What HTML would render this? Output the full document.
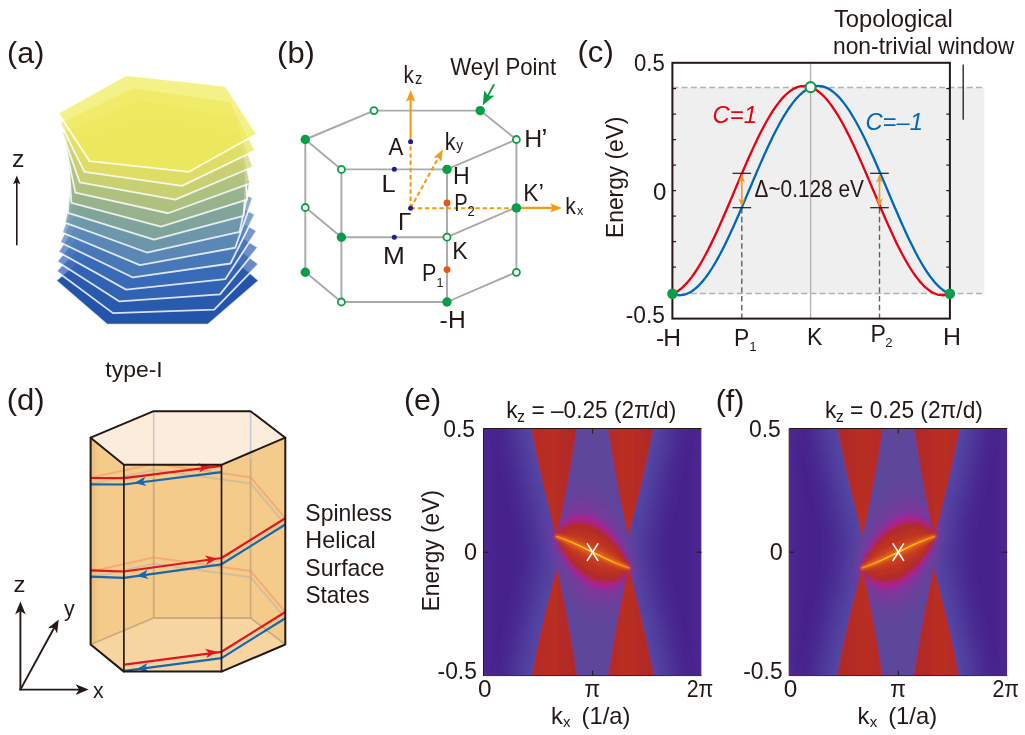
<!DOCTYPE html>
<html lang="en"><head><meta charset="utf-8"><title>Figure</title>
<style>
html,body{margin:0;padding:0;background:#fff;}
svg{display:block;font-family:"Liberation Sans", sans-serif;}
</style></head><body>
<svg width="1025" height="735" viewBox="0 0 1025 735">
<rect x="0" y="0" width="1025" height="735" fill="#ffffff"/>
<!-- panel pa -->
<text transform="translate(7.1 62.6) scale(1.0254 1)" font-size="29.7" text-anchor="start" fill="#231815" >(a)</text>
<text transform="translate(12 166.8) scale(1.0817 1)" font-size="23" text-anchor="start" fill="#231815" >z</text>
<line x1="16.8" y1="245.3" x2="16.8" y2="180" stroke="#231815" stroke-width="1.6"/>
<path d="M16.8 175.4 L20.4 184.2 L16.8 182.4 L13.2 184.2 Z" fill="#231815"/>
<g stroke="#ffffff" stroke-width="1.8" stroke-opacity="0.82" stroke-linejoin="round">
<polygon points="208.25,324.55 106.75,324.55 56,280.6 106.75,236.65 208.25,236.65 259,280.6" fill="#2454aa" fill-opacity="1"/>
<polygon points="214.26,309.58 113.01,313.12 56.25,271.05 100.74,225.43 201.99,221.89 258.75,263.97" fill="#2c5daf" fill-opacity="0.72"/>
<polygon points="219.99,294.41 119.48,301.47 56.99,261.48 95.01,214.43 195.52,207.36 258.01,247.35" fill="#3465b5" fill-opacity="0.72"/>
<polygon points="225.42,279.04 126.13,289.59 58.22,251.88 89.58,203.61 188.87,193.06 256.78,230.77" fill="#3c6eba" fill-opacity="0.72"/>
<polygon points="230.51,263.49 132.94,277.48 59.93,242.22 84.49,192.98 182.06,178.99 255.07,214.24" fill="#4f7eb8" fill-opacity="0.72"/>
<polygon points="235.25,247.76 139.87,265.12 62.12,232.5 79.75,182.52 175.13,165.16 252.88,197.78" fill="#618eb6" fill-opacity="0.72"/>
<polygon points="239.62,231.88 146.89,252.52 64.78,222.69 75.38,172.22 168.11,151.58 250.22,181.41" fill="#749ca6" fill-opacity="0.72"/>
<polygon points="243.58,215.85 153.96,239.68 67.88,212.78 71.42,162.06 161.04,138.24 247.12,165.13" fill="#88a995" fill-opacity="0.72"/>
<polygon points="247.12,199.69 161.04,226.59 71.42,202.76 67.88,152.04 153.96,125.15 243.58,148.97" fill="#a0b788" fill-opacity="0.72"/>
<polygon points="250.22,183.42 168.11,213.25 75.38,192.61 64.78,142.13 146.89,112.3 239.62,132.94" fill="#b9c67a" fill-opacity="0.72"/>
<polygon points="252.88,167.04 175.13,199.66 79.75,182.3 62.12,132.33 139.87,99.7 235.25,117.06" fill="#d1d56e" fill-opacity="0.72"/>
<polygon points="255.07,150.58 182.06,185.83 84.49,171.85 59.93,122.6 132.94,87.35 230.51,101.34" fill="#e6e363" fill-opacity="0.72"/>
<polygon points="256.78,134.05 188.87,171.77 89.58,161.21 58.22,112.95 126.13,75.23 225.42,85.79" fill="#f1eb5c" fill-opacity="0.72"/>
</g>
<text transform="translate(105.26 376.5) scale(1.0217 1)" font-size="22.5" text-anchor="start" fill="#231815" >type-I</text>
<!-- panel pb -->
<text transform="translate(277.06 62.6) scale(1.0438 1)" font-size="29.7" text-anchor="start" fill="#231815" >(b)</text>
<g fill="none" stroke="#a9a9aa" stroke-width="1.9" stroke-linejoin="round" stroke-linecap="round">
<polygon points="374,110.6 480.2,110.6 516.4,139.5 447,169.4 341.4,169.4 305.3,139.5"/>
<polyline points="305.3,207.3 341.4,237.2 447,237.2 516.4,207.3"/>
<polyline points="305.3,272.1 341.4,302 447,302 516.4,272.1"/>
<line x1="305.3" y1="139.5" x2="305.3" y2="272.1"/>
<line x1="341.4" y1="169.4" x2="341.4" y2="302"/>
<line x1="447.0" y1="169.4" x2="447.0" y2="302"/>
<line x1="516.4" y1="139.5" x2="516.4" y2="272.1"/>
</g>
<g stroke="#f39b12" stroke-width="2.1" fill="none">
<line x1="410.6" y1="208.2" x2="410.6" y2="142" stroke-dasharray="4.4 2.8"/>
<line x1="410.6" y1="142" x2="410.6" y2="99"/>
<line x1="410.6" y1="208.2" x2="516" y2="208.2" stroke-dasharray="4.4 2.8"/>
<line x1="516" y1="207.9" x2="553" y2="207.9"/>
<line x1="410.6" y1="208.2" x2="438.0" y2="158.5" stroke-dasharray="4.4 2.8"/>
</g>
<path d="M410.6 90.1 L415.2 101.8 L410.6 99.4 L406 101.8 Z" fill="#f39b12"/>
<path d="M561.9 207.9 L550.2 212.5 L552.7 207.9 L550.2 203.3 Z" fill="#f39b12"/>
<path d="M442.9 149.6 L441.2 161.8 L438.41 157.74 L433.5 157.55 Z" fill="#f39b12"/>
<circle cx="480.2" cy="110.6" r="4.7" fill="#0a9d49"/>
<circle cx="447.0" cy="169.4" r="4.7" fill="#0a9d49"/>
<circle cx="305.3" cy="139.5" r="4.7" fill="#0a9d49"/>
<circle cx="341.4" cy="237.2" r="4.7" fill="#0a9d49"/>
<circle cx="516.4" cy="207.9" r="4.7" fill="#0a9d49"/>
<circle cx="305.3" cy="272.3" r="4.7" fill="#0a9d49"/>
<circle cx="447.0" cy="302.0" r="4.7" fill="#0a9d49"/>
<circle cx="374.0" cy="110.6" r="3.5" fill="#ffffff" stroke="#0a9d49" stroke-width="1.8"/>
<circle cx="516.4" cy="139.5" r="3.5" fill="#ffffff" stroke="#0a9d49" stroke-width="1.8"/>
<circle cx="341.4" cy="169.4" r="3.5" fill="#ffffff" stroke="#0a9d49" stroke-width="1.8"/>
<circle cx="305.3" cy="207.5" r="3.5" fill="#ffffff" stroke="#0a9d49" stroke-width="1.8"/>
<circle cx="447.0" cy="237.2" r="3.5" fill="#ffffff" stroke="#0a9d49" stroke-width="1.8"/>
<circle cx="341.4" cy="302.0" r="3.5" fill="#ffffff" stroke="#0a9d49" stroke-width="1.8"/>
<circle cx="516.4" cy="272.3" r="3.5" fill="#ffffff" stroke="#0a9d49" stroke-width="1.8"/>
<circle cx="410.6" cy="141.7" r="2.5" fill="#1d2087"/>
<circle cx="394.3" cy="169.3" r="2.5" fill="#1d2087"/>
<circle cx="410.6" cy="208.2" r="2.5" fill="#1d2087"/>
<circle cx="394.3" cy="237.2" r="2.5" fill="#1d2087"/>
<circle cx="447.0" cy="203.0" r="3.4" fill="#e95513"/>
<circle cx="447.0" cy="269.6" r="3.4" fill="#e95513"/>
<line x1="494.1" y1="84.2" x2="487.4" y2="96.6" stroke="#0a9d49" stroke-width="1.9"/>
<path d="M482.7 105.3 L484.25 90.23 L487.93 95.62 L494.46 95.74 Z" fill="#0a9d49"/>
<text transform="translate(450.29 75.4) scale(0.9662 1)" font-size="23" text-anchor="start" fill="#231815" >Weyl Point</text>
<text transform="translate(403.6 82.6) scale(0.9047 1)" font-size="23" fill="#231815">k<tspan x="12.62" y="1.1" font-size="16.13">z</tspan></text>
<text transform="translate(444.73 149.5) scale(0.945 1)" font-size="23" fill="#231815">k<tspan x="12.2" y="0.9" font-size="14.54">y</tspan></text>
<text transform="translate(565.36 214) scale(0.9249 1)" font-size="23" fill="#231815">k<tspan x="12.52" y="1.1" font-size="13.66">x</tspan></text>
<text transform="translate(388.44 155.4) scale(0.9647 1)" font-size="23" text-anchor="start" fill="#231815" >A</text>
<text transform="translate(381.6 192.1) scale(1.1067 1)" font-size="23" text-anchor="start" fill="#231815" >L</text>
<text transform="translate(398.11 230.3) scale(1.0474 1)" font-size="23" text-anchor="start" fill="#231815" >Γ</text>
<text transform="translate(382.94 263.5) scale(1.1399 1)" font-size="23" text-anchor="start" fill="#231815" >M</text>
<text transform="translate(453.09 183.7) scale(1.006 1)" font-size="23" text-anchor="start" fill="#231815" >H</text>
<text transform="translate(524.14 147.1) scale(1.084 1)" font-size="23" fill="#231815">H<tspan x="15.69" y="0" font-size="25.76">’</tspan></text>
<text transform="translate(523.21 200.5) scale(0.9949 1)" font-size="23" fill="#231815">K<tspan x="15.43" y="0" font-size="24.74">’</tspan></text>
<text transform="translate(452.18 258.6) scale(1.0101 1)" font-size="23" text-anchor="start" fill="#231815" >K</text>
<text transform="translate(454.14 210.9) scale(0.8736 1)" font-size="23" fill="#231815">P<tspan x="15.34" y="4.8" font-size="15.01">2</tspan></text>
<text transform="translate(421.92 281.1) scale(0.939 1)" font-size="23" fill="#231815">P<tspan x="15.59" y="5.4" font-size="13.4">1</tspan></text>
<text transform="translate(439.39 328.4) scale(1.0684 1)" font-size="23" fill="#231815">-<tspan x="8.12" y="0" font-size="23">H</tspan></text>
<!-- panel pc -->
<text transform="translate(577.45 62.4) scale(1.0497 1)" font-size="29.7" text-anchor="start" fill="#231815" >(c)</text>
<rect x="672.4" y="87.6" width="311.9" height="206" fill="#efefef"/>
<g stroke="#b2b2b3" stroke-width="1.5" stroke-dasharray="6 3.2">
<line x1="672.4" y1="87.6" x2="984.3" y2="87.6"/>
<line x1="672.4" y1="293.6" x2="984.3" y2="293.6"/>
</g>
<line x1="810.6" y1="62.8" x2="810.6" y2="318.6" stroke="#b0b0b1" stroke-width="1.3"/>
<line x1="741.8" y1="208" x2="741.8" y2="318.6" stroke="#626161" stroke-width="1.4" stroke-dasharray="5.6 3.2"/>
<line x1="879.5" y1="208" x2="879.5" y2="318.6" stroke="#626161" stroke-width="1.4" stroke-dasharray="5.6 3.2"/>
<polyline points="672.4,293.88 674.13,294.46 675.87,294.88 677.6,295.14 679.34,295.24 681.07,295.17 682.81,294.95 684.54,294.57 686.27,294.02 688.01,293.32 689.74,292.45 691.48,291.43 693.21,290.26 694.95,288.93 696.68,287.45 698.42,285.82 700.15,284.04 701.88,282.12 703.62,280.06 705.35,277.86 707.09,275.53 708.82,273.06 710.56,270.47 712.29,267.75 714.02,264.92 715.76,261.97 717.49,258.91 719.23,255.75 720.96,252.48 722.7,249.12 724.43,245.67 726.17,242.13 727.9,238.52 729.63,234.83 731.37,231.07 733.1,227.25 734.84,223.38 736.57,219.45 738.31,215.48 740.04,211.47 741.77,207.43 743.51,203.36 745.24,199.28 746.98,195.17 748.71,191.07 750.45,186.96 752.18,182.86 753.92,178.77 755.65,174.69 757.38,170.64 759.12,166.63 760.85,162.65 762.59,158.71 764.32,154.82 766.06,150.99 767.79,147.22 769.52,143.51 771.26,139.88 772.99,136.33 774.73,132.86 776.46,129.47 778.2,126.19 779.93,123 781.67,119.92 783.4,116.94 785.13,114.08 786.87,111.34 788.6,108.72 790.34,106.22 792.07,103.86 793.81,101.63 795.54,99.53 797.27,97.58 799.01,95.77 800.74,94.11 802.48,92.59 804.21,91.23 805.95,90.02 807.68,88.96 809.42,88.07 811.15,87.32 812.88,86.74 814.62,86.32 816.35,86.06 818.09,85.96 819.82,86.03 821.56,86.25 823.29,86.63 825.02,87.18 826.76,87.88 828.49,88.75 830.23,89.77 831.96,90.94 833.7,92.27 835.43,93.75 837.17,95.38 838.9,97.16 840.63,99.08 842.37,101.14 844.1,103.34 845.84,105.67 847.57,108.14 849.31,110.73 851.04,113.45 852.77,116.28 854.51,119.23 856.24,122.29 857.98,125.45 859.71,128.72 861.45,132.08 863.18,135.53 864.92,139.07 866.65,142.68 868.38,146.37 870.12,150.13 871.85,153.95 873.59,157.82 875.32,161.75 877.06,165.72 878.79,169.73 880.52,173.77 882.26,177.84 883.99,181.92 885.73,186.03 887.46,190.13 889.2,194.24 890.93,198.34 892.67,202.43 894.4,206.51 896.13,210.56 897.87,214.57 899.6,218.55 901.34,222.49 903.07,226.38 904.81,230.21 906.54,233.98 908.27,237.69 910.01,241.32 911.74,244.87 913.48,248.34 915.21,251.73 916.95,255.01 918.68,258.2 920.42,261.28 922.15,264.26 923.88,267.12 925.62,269.86 927.35,272.48 929.09,274.98 930.82,277.34 932.56,279.57 934.29,281.67 936.02,283.62 937.76,285.43 939.49,287.09 941.23,288.61 942.96,289.97 944.7,291.18 946.43,292.24 948.17,293.13 949.9,293.88" fill="none" stroke="#0068b7" stroke-width="2.3"/>
<polyline points="672.4,293.88 674.13,293.13 675.87,292.24 677.6,291.18 679.34,289.97 681.07,288.61 682.81,287.09 684.54,285.43 686.27,283.62 688.01,281.67 689.74,279.57 691.48,277.34 693.21,274.98 694.95,272.48 696.68,269.86 698.42,267.12 700.15,264.26 701.88,261.28 703.62,258.2 705.35,255.01 707.09,251.73 708.82,248.34 710.56,244.87 712.29,241.32 714.02,237.69 715.76,233.98 717.49,230.21 719.23,226.38 720.96,222.49 722.7,218.55 724.43,214.57 726.17,210.56 727.9,206.51 729.63,202.43 731.37,198.34 733.1,194.24 734.84,190.13 736.57,186.03 738.31,181.92 740.04,177.84 741.77,173.77 743.51,169.73 745.24,165.72 746.98,161.75 748.71,157.82 750.45,153.95 752.18,150.13 753.92,146.37 755.65,142.68 757.38,139.07 759.12,135.53 760.85,132.08 762.59,128.72 764.32,125.45 766.06,122.29 767.79,119.23 769.52,116.28 771.26,113.45 772.99,110.73 774.73,108.14 776.46,105.67 778.2,103.34 779.93,101.14 781.67,99.08 783.4,97.16 785.13,95.38 786.87,93.75 788.6,92.27 790.34,90.94 792.07,89.77 793.81,88.75 795.54,87.88 797.27,87.18 799.01,86.63 800.74,86.25 802.48,86.03 804.21,85.96 805.95,86.06 807.68,86.32 809.42,86.74 811.15,87.32 812.88,88.07 814.62,88.96 816.35,90.02 818.09,91.23 819.82,92.59 821.56,94.11 823.29,95.77 825.02,97.58 826.76,99.53 828.49,101.63 830.23,103.86 831.96,106.22 833.7,108.72 835.43,111.34 837.17,114.08 838.9,116.94 840.63,119.92 842.37,123 844.1,126.19 845.84,129.47 847.57,132.86 849.31,136.33 851.04,139.88 852.77,143.51 854.51,147.22 856.24,150.99 857.98,154.82 859.71,158.71 861.45,162.65 863.18,166.63 864.92,170.64 866.65,174.69 868.38,178.77 870.12,182.86 871.85,186.96 873.59,191.07 875.32,195.17 877.06,199.28 878.79,203.36 880.52,207.43 882.26,211.47 883.99,215.48 885.73,219.45 887.46,223.38 889.2,227.25 890.93,231.07 892.67,234.83 894.4,238.52 896.13,242.13 897.87,245.67 899.6,249.12 901.34,252.48 903.07,255.75 904.81,258.91 906.54,261.97 908.27,264.92 910.01,267.75 911.74,270.47 913.48,273.06 915.21,275.53 916.95,277.86 918.68,280.06 920.42,282.12 922.15,284.04 923.88,285.82 925.62,287.45 927.35,288.93 929.09,290.26 930.82,291.43 932.56,292.45 934.29,293.32 936.02,294.02 937.76,294.57 939.49,294.95 941.23,295.17 942.96,295.24 944.7,295.14 946.43,294.88 948.17,294.46 949.9,293.88" fill="none" stroke="#e60012" stroke-width="2.3"/>
<rect x="672.4" y="62.8" width="277.5" height="255.8" fill="none" stroke="#231815" stroke-width="2"/>
<g stroke="#231815" stroke-width="1.2">
<line x1="672.4" y1="292.6" x2="676" y2="292.6"/>
<line x1="949.9" y1="292.6" x2="946.3" y2="292.6"/>
<line x1="672.4" y1="267.1" x2="676" y2="267.1"/>
<line x1="949.9" y1="267.1" x2="946.3" y2="267.1"/>
<line x1="672.4" y1="241.6" x2="676" y2="241.6"/>
<line x1="949.9" y1="241.6" x2="946.3" y2="241.6"/>
<line x1="672.4" y1="216.1" x2="676" y2="216.1"/>
<line x1="949.9" y1="216.1" x2="946.3" y2="216.1"/>
<line x1="672.4" y1="190.6" x2="676" y2="190.6"/>
<line x1="949.9" y1="190.6" x2="946.3" y2="190.6"/>
<line x1="672.4" y1="165.1" x2="676" y2="165.1"/>
<line x1="949.9" y1="165.1" x2="946.3" y2="165.1"/>
<line x1="672.4" y1="139.6" x2="676" y2="139.6"/>
<line x1="949.9" y1="139.6" x2="946.3" y2="139.6"/>
<line x1="672.4" y1="114.1" x2="676" y2="114.1"/>
<line x1="949.9" y1="114.1" x2="946.3" y2="114.1"/>
<line x1="672.4" y1="88.6" x2="676" y2="88.6"/>
<line x1="949.9" y1="88.6" x2="946.3" y2="88.6"/>
</g>
<line x1="732.5" y1="173.3" x2="751.1" y2="173.3" stroke="#231815" stroke-width="1.2"/>
<line x1="732.5" y1="207.7" x2="751.1" y2="207.7" stroke="#231815" stroke-width="1.2"/>
<line x1="741.8" y1="178" x2="741.8" y2="203" stroke="#f39a1e" stroke-width="1.6"/>
<path d="M741.8 174.2 L745.1 182.6 L741.8 180.6 L738.5 182.6 Z" fill="#f39a1e"/>
<path d="M741.8 206.8 L745.1 198.4 L741.8 200.4 L738.5 198.4 Z" fill="#f39a1e"/>
<line x1="870.2" y1="173.3" x2="888.8" y2="173.3" stroke="#231815" stroke-width="1.2"/>
<line x1="870.2" y1="207.7" x2="888.8" y2="207.7" stroke="#231815" stroke-width="1.2"/>
<line x1="879.5" y1="178" x2="879.5" y2="203" stroke="#f39a1e" stroke-width="1.6"/>
<path d="M879.5 174.2 L882.8 182.6 L879.5 180.6 L876.2 182.6 Z" fill="#f39a1e"/>
<path d="M879.5 206.8 L882.8 198.4 L879.5 200.4 L876.2 198.4 Z" fill="#f39a1e"/>
<circle cx="672.4" cy="293.8" r="5.2" fill="#0a9d49"/>
<circle cx="949.9" cy="293.8" r="5.2" fill="#0a9d49"/>
<circle cx="810.6" cy="87.2" r="5.0" fill="#ffffff" stroke="#0a9d49" stroke-width="2.2"/>
<line x1="963.2" y1="64.5" x2="963.2" y2="119.8" stroke="#231815" stroke-width="1.3"/>
<text transform="translate(833.96 27.2) scale(1.0341 1)" font-size="23" text-anchor="start" fill="#231815" >Topological</text>
<text transform="translate(832.96 54.4) scale(0.9928 1)" font-size="23" text-anchor="start" fill="#231815" >non-trivial window</text>
<text transform="translate(634.01 71.2) scale(0.9625 1)" font-size="23" text-anchor="start" fill="#231815" >0.5</text>
<text transform="translate(653.04 199.8) scale(1.0471 1)" font-size="23" text-anchor="start" fill="#231815" >0</text>
<text transform="translate(625.77 323.4) scale(0.9904 1)" font-size="23" text-anchor="start" fill="#231815" >-0.5</text>
<text transform="translate(623.4 237.88) rotate(-90) scale(0.9889 1)" font-size="23" text-anchor="start" fill="#231815" >Energy (eV)</text>
<text transform="translate(655.99 345.6) scale(1.0684 1)" font-size="23" fill="#231815">-<tspan x="6.91" y="0" font-size="23">H</tspan></text>
<text transform="translate(734.11 345.6) scale(0.9961 1)" font-size="23" fill="#231815">P<tspan x="15.15" y="5.2" font-size="13.4">1</tspan></text>
<text transform="translate(807 344.6) scale(1.0025 1)" font-size="23" text-anchor="start" fill="#231815" >K</text>
<text transform="translate(870.49 342.3) scale(1.0043 1)" font-size="23" fill="#231815">P<tspan x="14.78" y="5.1" font-size="13.13">2</tspan></text>
<text transform="translate(942.94 345) scale(1.084 1)" font-size="23" text-anchor="start" fill="#231815" >H</text>
<text transform="translate(712.59 122.5) scale(1.0349 1)" font-size="23" text-anchor="start" fill="#e60012" font-style="italic">C=1</text>
<text transform="translate(865.39 130.1) scale(1.0336 1)" font-size="23" text-anchor="start" fill="#0068b7" font-style="italic">C=–1</text>
<text transform="translate(754.58 197.4) scale(0.9045 1)" font-size="23" text-anchor="start" fill="#231815" >Δ~0.128 eV</text>
<!-- panel pd -->
<polygon points="90.6,437.7 123.9,464.8 221.5,464.8 285.3,437.7 285.3,644.5 221.5,671.6 123.9,671.6 90.6,644.5" fill="#f5cb8b"/>
<defs><linearGradient id="dLeft" x1="0" y1="0" x2="1" y2="0"><stop offset="0" stop-color="#e9b970"/><stop offset="0.25" stop-color="#f5cb8b"/><stop offset="1" stop-color="#f5cb8b"/></linearGradient></defs>
<polygon points="90.6,437.7 123.9,464.8 123.9,671.6 90.6,644.5" fill="url(#dLeft)"/>
<polygon points="90.6,644.5 153.7,618 250.6,618 285.3,644.5 221.5,671.6 123.9,671.6" fill="#fbe3bd" fill-opacity="0.45"/>
<polyline points="285.3,518.2 250.6,477.2 153.7,463.7 90.6,477.7" fill="none" stroke="#ea6a3e" stroke-opacity="0.3" stroke-width="2" stroke-linejoin="round"/>
<polyline points="285.3,524.4 250.6,483.4 153.7,469.9 90.6,483.9" fill="none" stroke="#8d9db5" stroke-opacity="0.3" stroke-width="2" stroke-linejoin="round"/>
<polyline points="285.3,612 250.6,571 153.7,557.5 90.6,571.5" fill="none" stroke="#ea6a3e" stroke-opacity="0.3" stroke-width="2" stroke-linejoin="round"/>
<polyline points="285.3,618.2 250.6,577.2 153.7,563.7 90.6,577.7" fill="none" stroke="#8d9db5" stroke-opacity="0.3" stroke-width="2" stroke-linejoin="round"/>
<g stroke="#c4a679" stroke-opacity="0.85" stroke-width="1.8" fill="none">
<line x1="153.7" y1="411.2" x2="153.7" y2="618"/>
<line x1="250.6" y1="411.2" x2="250.6" y2="618"/>
<polyline points="90.6,644.5 153.7,618 250.6,618 285.3,644.5"/>
</g>
<polygon points="90.6,437.7 153.7,411.2 250.6,411.2 285.3,437.7 221.5,464.8 123.9,464.8" fill="#fcecdb"/>
<g stroke="#c5c9d2" stroke-width="1.6">
<line x1="153.7" y1="411.2" x2="153.7" y2="464.8"/>
<line x1="250.6" y1="411.2" x2="250.6" y2="458.8"/>
</g>
<polyline points="90.6,484.3 123.9,484.5 221.5,472.1" fill="none" stroke="#1467b3" stroke-width="2.2" stroke-linejoin="round"/>
<polyline points="90.6,576.7 123.9,577.8 221.5,564.3 285.3,524.5" fill="none" stroke="#1467b3" stroke-width="2.2" stroke-linejoin="round"/>
<polyline points="124.6,670.9 221.5,658.1 285.3,618.3" fill="none" stroke="#1467b3" stroke-width="2.2" stroke-linejoin="round"/>
<polyline points="90.6,478 123.9,478.2 221.5,465.8" fill="none" stroke="#e0161e" stroke-width="2.2" stroke-linejoin="round"/>
<polyline points="90.6,570.4 123.9,571.5 221.5,558 285.3,518.2" fill="none" stroke="#e0161e" stroke-width="2.2" stroke-linejoin="round"/>
<polyline points="124.6,664.6 221.5,651.8 285.3,612" fill="none" stroke="#e0161e" stroke-width="2.2" stroke-linejoin="round"/>
<path d="M210.5 466.22 L199.26 472.52 L201.78 467.43 L197.97 463.21 Z" fill="#e0161e"/>
<path d="M134 483.1 L145.24 476.8 L142.72 481.9 L146.53 486.11 Z" fill="#1467b3"/>
<path d="M217.5 558.55 L206.26 564.85 L208.78 559.76 L204.97 555.54 Z" fill="#e0161e"/>
<path d="M136.2 576.1 L147.44 569.8 L144.92 574.89 L148.73 579.11 Z" fill="#1467b3"/>
<path d="M217.5 651.75 L206.26 658.05 L208.78 652.96 L204.97 648.74 Z" fill="#e0161e"/>
<path d="M136.2 669.3 L147.44 663 L144.92 668.09 L148.73 672.31 Z" fill="#1467b3"/>
<g fill="none" stroke="#231815" stroke-linejoin="round" stroke-linecap="round">
<polygon points="90.6,437.7 153.7,411.2 250.6,411.2 285.3,437.7 221.5,464.8 123.9,464.8" stroke-width="1.9"/>
<polyline points="90.6,437.7 90.6,644.5 123.9,671.6 221.5,671.6 285.3,644.5 285.3,437.7" stroke-width="2"/>
<line x1="123.9" y1="464.8" x2="123.9" y2="671.6" stroke-width="1.7"/>
<line x1="221.5" y1="464.8" x2="221.5" y2="671.6" stroke-width="1.7"/>
</g>
<g stroke="#231815" stroke-width="1.9" fill="none" stroke-linecap="butt">
<line x1="20.4" y1="690.5" x2="20.4" y2="611"/>
<line x1="19.5" y1="689.6" x2="79" y2="689.6"/>
<line x1="20.4" y1="689.6" x2="54.2" y2="627.8"/>
</g>
<path d="M20.4 601.4 L25.7 614.4 L20.4 610.9 L15.1 614.4 Z" fill="#231815"/>
<path d="M88.6 689.6 L75.6 694.9 L79.1 689.6 L75.6 684.3 Z" fill="#231815"/>
<path d="M58.7 619.5 L57.12 633.45 L54.15 627.84 L47.82 628.37 Z" fill="#231815"/>
<text transform="translate(6.66 409.6) scale(1.0468 1)" font-size="29.7" text-anchor="start" fill="#231815" >(d)</text>
<text transform="translate(13.54 592.3) scale(1.0865 1)" font-size="22" text-anchor="start" fill="#231815" >z</text>
<text transform="translate(63.95 616.4) scale(0.9734 1)" font-size="22" text-anchor="start" fill="#231815" >y</text>
<text transform="translate(92.93 697.6) scale(0.9665 1)" font-size="22" text-anchor="start" fill="#231815" >x</text>
<text transform="translate(305.37 521.2) scale(0.9976 1)" font-size="23" text-anchor="start" fill="#231815" >Spinless</text>
<text transform="translate(305.37 548.4) scale(1.0197 1)" font-size="23" text-anchor="start" fill="#231815" >Helical</text>
<text transform="translate(305.37 575.5) scale(0.9997 1)" font-size="23" text-anchor="start" fill="#231815" >Surface</text>
<text transform="translate(305.38 602.7) scale(0.9848 1)" font-size="23" text-anchor="start" fill="#231815" >States</text>
<!-- panel pe -->
<defs>
<clipPath id="clipE"><rect x="0" y="0" width="218.0" height="247.2"/></clipPath>
<linearGradient id="bgE" x1="0" y1="0" x2="1" y2="0">
<stop offset="0" stop-color="#4c2892"/><stop offset="0.07" stop-color="#47218c"/><stop offset="0.16" stop-color="#46238d"/>
<stop offset="0.5" stop-color="#4a2a92"/>
<stop offset="0.84" stop-color="#46238d"/><stop offset="0.93" stop-color="#47218c"/><stop offset="1" stop-color="#4c2892"/></linearGradient>
<filter id="bhE" x="-40%" y="-40%" width="180%" height="180%"><feGaussianBlur stdDeviation="13"/></filter>
<filter id="bmE" x="-40%" y="-40%" width="180%" height="180%"><feGaussianBlur stdDeviation="5"/></filter>
<linearGradient id="coneE" x1="0" y1="0" x2="1" y2="0">
<stop offset="0" stop-color="#b52b26"/><stop offset="0.45" stop-color="#b92e23"/><stop offset="1" stop-color="#ad2828"/></linearGradient>
<filter id="b0E" x="-50%" y="-50%" width="200%" height="200%"><feGaussianBlur stdDeviation="9"/></filter>
<filter id="b1E" x="-30%" y="-30%" width="160%" height="160%"><feGaussianBlur stdDeviation="5"/></filter>
<filter id="b2E" x="-30%" y="-30%" width="160%" height="160%"><feGaussianBlur stdDeviation="1.8"/></filter>
<filter id="b3E" x="-30%" y="-60%" width="160%" height="220%"><feGaussianBlur stdDeviation="1.6"/></filter>
<filter id="b4E" x="-30%" y="-60%" width="160%" height="220%"><feGaussianBlur stdDeviation="0.7"/></filter>
<filter id="b5E" x="-10%" y="-10%" width="120%" height="120%"><feGaussianBlur stdDeviation="0.45"/></filter>
<linearGradient id="lgE" gradientUnits="userSpaceOnUse" x1="72.9" y1="0" x2="145.1" y2="0"><stop offset="0" stop-color="#f08a1a"/><stop offset="0.3" stop-color="#fbbd1e"/><stop offset="0.5" stop-color="#ffd42a"/><stop offset="0.7" stop-color="#fbbd1e"/><stop offset="1" stop-color="#f08a1a"/></linearGradient>
</defs>
<g transform="translate(483.6 428.6)" clip-path="url(#clipE)">
<rect x="0" y="0" width="218.0" height="247.2" fill="url(#bgE)"/>
<polygon points="48,-30 169.5,-30 169.5,0 144.8,107 145.2,139.2 170,247.2 170,277.2 48.5,277.2 48.5,247.2 73.2,140.2 72.8,108 48,0" fill="#5548a5" stroke="#5548a5" stroke-width="34" stroke-linejoin="round" filter="url(#bhE)"/>
<polygon points="86,-20 132,-20 132,0 145.5,107 146,139.2 128,247.2 128,267.2 86,267.2 90,247.2 72.5,140.2 72,108 90,0" fill="#5f469a" filter="url(#bmE)" opacity="0.9"/>
<g transform="translate(109 123.6) skewY(23.5)">
<path d="M-44.1 0 C-25.58 -82.65 25.58 -82.65 44.1 0 C25.58 82.65 -25.58 82.65 -44.1 0 Z" fill="#7a3a9c" filter="url(#b0E)" opacity="0.6"/>
<path d="M-40.1 0 C-23.26 -58.65 23.26 -58.65 40.1 0 C23.26 58.65 -23.26 58.65 -40.1 0 Z" fill="#83349b" filter="url(#b1E)" opacity="0.85"/>
<path d="M-37.6 0 C-21.81 -45.99 21.81 -45.99 37.6 0 C21.81 45.99 -21.81 45.99 -37.6 0 Z" fill="#aa208e" filter="url(#b2E)"/>
<path d="M-36.1 0 C-20.94 -35.99 20.94 -35.99 36.1 0 C20.94 35.99 -20.94 35.99 -36.1 0 Z" fill="#b12a2a" filter="url(#b2E)"/>
<path d="M-36.1 0 C-20.94 -25.99 20.94 -25.99 36.1 0 C20.94 25.99 -20.94 25.99 -36.1 0 Z" fill="#bb3024" filter="url(#b2E)"/>
<path d="M-35.1 0 C-20.36 -14.66 20.36 -14.66 35.1 0 C20.36 14.66 -20.36 14.66 -35.1 0 Z" fill="#c63c20" filter="url(#b2E)"/>
<path d="M-34.1 0 C-19.78 -6.67 19.78 -6.67 34.1 0 C19.78 6.67 -19.78 6.67 -34.1 0 Z" fill="#d6521b" filter="url(#b2E)"/>
</g>
<g filter="url(#b5E)">
<path d="M48 0 C58.2 54 69.4 93 72.8 108 C76.2 93 85 54 92.8 0 Z" fill="url(#coneE)" stroke="#b42a58" stroke-width="0.8" stroke-linejoin="round"/>
<path d="M124.9 0 C132.65 53.5 141.4 92 144.8 107 C148.2 92 159.35 53.5 169.5 0 Z" fill="url(#coneE)" stroke="#b42a58" stroke-width="0.8" stroke-linejoin="round"/>
<path d="M125.2 247.2 C133 193.2 141.8 154.2 145.2 139.2 C148.6 154.2 159.8 193.2 170 247.2 Z" fill="url(#coneE)" stroke="#b42a58" stroke-width="0.8" stroke-linejoin="round"/>
<path d="M48.5 247.2 C58.65 193.7 69.8 155.2 73.2 140.2 C76.6 155.2 85.35 193.7 93.1 247.2 Z" fill="url(#coneE)" stroke="#b42a58" stroke-width="0.8" stroke-linejoin="round"/>
</g>
<path d="M72.9 107.9 C94.9 115.4 97 118.2 109 123.6 S123.1 131.8 145.1 139.3" fill="none" stroke="#e96c18" stroke-width="3.6" stroke-linecap="round" filter="url(#b3E)"/>
<path d="M72.9 107.9 C94.9 115.4 97 118.2 109 123.6 S123.1 131.8 145.1 139.3" fill="none" stroke="url(#lgE)" stroke-width="1.5" stroke-linecap="round" filter="url(#b4E)"/>
</g>
<g stroke="#231815" stroke-width="1" fill="none">
<polyline points="483.5,675.8 483.5,428.5 701.6,428.5"/>
<line x1="483.6" y1="675.6" x2="701.6" y2="675.6" stroke-opacity="0.8"/>
<line x1="592.6" y1="428.6" x2="592.6" y2="433.6"/>
<line x1="592.6" y1="675.8" x2="592.6" y2="670.8"/>
<line x1="483.6" y1="552.2" x2="488.6" y2="552.2"/>
<line x1="701.6" y1="552.2" x2="696.6" y2="552.2"/>
</g>
<g stroke="#ffffff" stroke-width="1.5" stroke-linecap="butt">
<line x1="587" y1="543.4" x2="598.2" y2="561"/>
<line x1="598.2" y1="543.4" x2="587" y2="561"/>
</g>
<defs>
<clipPath id="clipF"><rect x="0" y="0" width="218.0" height="247.2"/></clipPath>
<linearGradient id="bgF" x1="0" y1="0" x2="1" y2="0">
<stop offset="0" stop-color="#4c2892"/><stop offset="0.07" stop-color="#47218c"/><stop offset="0.16" stop-color="#46238d"/>
<stop offset="0.5" stop-color="#4a2a92"/>
<stop offset="0.84" stop-color="#46238d"/><stop offset="0.93" stop-color="#47218c"/><stop offset="1" stop-color="#4c2892"/></linearGradient>
<filter id="bhF" x="-40%" y="-40%" width="180%" height="180%"><feGaussianBlur stdDeviation="13"/></filter>
<filter id="bmF" x="-40%" y="-40%" width="180%" height="180%"><feGaussianBlur stdDeviation="5"/></filter>
<linearGradient id="coneF" x1="0" y1="0" x2="1" y2="0">
<stop offset="0" stop-color="#b52b26"/><stop offset="0.45" stop-color="#b92e23"/><stop offset="1" stop-color="#ad2828"/></linearGradient>
<filter id="b0F" x="-50%" y="-50%" width="200%" height="200%"><feGaussianBlur stdDeviation="9"/></filter>
<filter id="b1F" x="-30%" y="-30%" width="160%" height="160%"><feGaussianBlur stdDeviation="5"/></filter>
<filter id="b2F" x="-30%" y="-30%" width="160%" height="160%"><feGaussianBlur stdDeviation="1.8"/></filter>
<filter id="b3F" x="-30%" y="-60%" width="160%" height="220%"><feGaussianBlur stdDeviation="1.6"/></filter>
<filter id="b4F" x="-30%" y="-60%" width="160%" height="220%"><feGaussianBlur stdDeviation="0.7"/></filter>
<filter id="b5F" x="-10%" y="-10%" width="120%" height="120%"><feGaussianBlur stdDeviation="0.45"/></filter>
<linearGradient id="lgF" gradientUnits="userSpaceOnUse" x1="72.9" y1="0" x2="145.1" y2="0"><stop offset="0" stop-color="#f08a1a"/><stop offset="0.3" stop-color="#fbbd1e"/><stop offset="0.5" stop-color="#ffd42a"/><stop offset="0.7" stop-color="#fbbd1e"/><stop offset="1" stop-color="#f08a1a"/></linearGradient>
</defs>
<g transform="translate(1007.3 428.6) scale(-1 1)" clip-path="url(#clipF)">
<rect x="0" y="0" width="218.0" height="247.2" fill="url(#bgF)"/>
<polygon points="48,-30 169.5,-30 169.5,0 144.8,107 145.2,139.2 170,247.2 170,277.2 48.5,277.2 48.5,247.2 73.2,140.2 72.8,108 48,0" fill="#5548a5" stroke="#5548a5" stroke-width="34" stroke-linejoin="round" filter="url(#bhF)"/>
<polygon points="86,-20 132,-20 132,0 145.5,107 146,139.2 128,247.2 128,267.2 86,267.2 90,247.2 72.5,140.2 72,108 90,0" fill="#5f469a" filter="url(#bmF)" opacity="0.9"/>
<g transform="translate(109 123.6) skewY(23.5)">
<path d="M-44.1 0 C-25.58 -82.65 25.58 -82.65 44.1 0 C25.58 82.65 -25.58 82.65 -44.1 0 Z" fill="#7a3a9c" filter="url(#b0F)" opacity="0.6"/>
<path d="M-40.1 0 C-23.26 -58.65 23.26 -58.65 40.1 0 C23.26 58.65 -23.26 58.65 -40.1 0 Z" fill="#83349b" filter="url(#b1F)" opacity="0.85"/>
<path d="M-37.6 0 C-21.81 -45.99 21.81 -45.99 37.6 0 C21.81 45.99 -21.81 45.99 -37.6 0 Z" fill="#aa208e" filter="url(#b2F)"/>
<path d="M-36.1 0 C-20.94 -35.99 20.94 -35.99 36.1 0 C20.94 35.99 -20.94 35.99 -36.1 0 Z" fill="#b12a2a" filter="url(#b2F)"/>
<path d="M-36.1 0 C-20.94 -25.99 20.94 -25.99 36.1 0 C20.94 25.99 -20.94 25.99 -36.1 0 Z" fill="#bb3024" filter="url(#b2F)"/>
<path d="M-35.1 0 C-20.36 -14.66 20.36 -14.66 35.1 0 C20.36 14.66 -20.36 14.66 -35.1 0 Z" fill="#c63c20" filter="url(#b2F)"/>
<path d="M-34.1 0 C-19.78 -6.67 19.78 -6.67 34.1 0 C19.78 6.67 -19.78 6.67 -34.1 0 Z" fill="#d6521b" filter="url(#b2F)"/>
</g>
<g filter="url(#b5F)">
<path d="M48 0 C58.2 54 69.4 93 72.8 108 C76.2 93 85 54 92.8 0 Z" fill="url(#coneF)" stroke="#b42a58" stroke-width="0.8" stroke-linejoin="round"/>
<path d="M124.9 0 C132.65 53.5 141.4 92 144.8 107 C148.2 92 159.35 53.5 169.5 0 Z" fill="url(#coneF)" stroke="#b42a58" stroke-width="0.8" stroke-linejoin="round"/>
<path d="M125.2 247.2 C133 193.2 141.8 154.2 145.2 139.2 C148.6 154.2 159.8 193.2 170 247.2 Z" fill="url(#coneF)" stroke="#b42a58" stroke-width="0.8" stroke-linejoin="round"/>
<path d="M48.5 247.2 C58.65 193.7 69.8 155.2 73.2 140.2 C76.6 155.2 85.35 193.7 93.1 247.2 Z" fill="url(#coneF)" stroke="#b42a58" stroke-width="0.8" stroke-linejoin="round"/>
</g>
<path d="M72.9 107.9 C94.9 115.4 97 118.2 109 123.6 S123.1 131.8 145.1 139.3" fill="none" stroke="#e96c18" stroke-width="3.6" stroke-linecap="round" filter="url(#b3F)"/>
<path d="M72.9 107.9 C94.9 115.4 97 118.2 109 123.6 S123.1 131.8 145.1 139.3" fill="none" stroke="url(#lgF)" stroke-width="1.5" stroke-linecap="round" filter="url(#b4F)"/>
</g>
<g stroke="#231815" stroke-width="1" fill="none">
<polyline points="789.2,675.8 789.2,428.5 1007.3,428.5"/>
<line x1="789.3" y1="675.6" x2="1007.3" y2="675.6" stroke-opacity="0.8"/>
<line x1="898.3" y1="428.6" x2="898.3" y2="433.6"/>
<line x1="898.3" y1="675.8" x2="898.3" y2="670.8"/>
<line x1="789.3" y1="552.2" x2="794.3" y2="552.2"/>
<line x1="1007.3" y1="552.2" x2="1002.3" y2="552.2"/>
</g>
<g stroke="#ffffff" stroke-width="1.5" stroke-linecap="butt">
<line x1="892.7" y1="543.4" x2="903.9" y2="561"/>
<line x1="903.9" y1="543.4" x2="892.7" y2="561"/>
</g>
<text transform="translate(404 410.2) scale(1.0223 1)" font-size="29.7" text-anchor="start" fill="#231815" >(e)</text>
<text transform="translate(715.69 410.6) scale(1.0265 1)" font-size="29.7" text-anchor="start" fill="#231815" >(f)</text>
<text transform="translate(443.28 436.6) scale(0.9957 1)" font-size="23" text-anchor="start" fill="#231815" >0.5</text>
<text transform="translate(464.06 560) scale(1.0198 1)" font-size="23" text-anchor="start" fill="#231815" >0</text>
<text transform="translate(437.57 679) scale(0.993 1)" font-size="23" text-anchor="start" fill="#231815" >-0.5</text>
<text transform="translate(439.3 611.27) rotate(-90) scale(0.9872 1)" font-size="23" text-anchor="start" fill="#231815" >Energy (eV)</text>
<text transform="translate(478.03 697.4) scale(1.0562 1)" font-size="23" text-anchor="start" fill="#231815" >0</text>
<text transform="translate(584.45 697.4) scale(0.9907 1)" font-size="23" text-anchor="start" fill="#231815" >π</text>
<text transform="translate(686.73 697.4) scale(0.928 1)" font-size="23" text-anchor="start" fill="#231815" >2π</text>
<text transform="translate(550.89 723.8) scale(1.0349 1)" font-size="23" fill="#231815">k<tspan x="11.81" y="2.9" font-size="14.44">x</tspan><tspan x="23.2" y="0" font-size="23"> (1/a)</tspan></text>
<text transform="translate(748.98 436.6) scale(0.9957 1)" font-size="23" text-anchor="start" fill="#231815" >0.5</text>
<text transform="translate(769.76 560) scale(1.0198 1)" font-size="23" text-anchor="start" fill="#231815" >0</text>
<text transform="translate(743.27 679) scale(0.993 1)" font-size="23" text-anchor="start" fill="#231815" >-0.5</text>
<text transform="translate(783.73 697.4) scale(1.0562 1)" font-size="23" text-anchor="start" fill="#231815" >0</text>
<text transform="translate(890.15 697.4) scale(0.9907 1)" font-size="23" text-anchor="start" fill="#231815" >π</text>
<text transform="translate(992.43 697.4) scale(0.928 1)" font-size="23" text-anchor="start" fill="#231815" >2π</text>
<text transform="translate(857.59 723.8) scale(1.0349 1)" font-size="23" fill="#231815">k<tspan x="11.81" y="2.9" font-size="14.44">x</tspan><tspan x="23.2" y="0" font-size="23"> (1/a)</tspan></text>
<text transform="translate(506.37 418) scale(0.9866 1)" font-size="23" fill="#231815">k<tspan x="10.84" y="3.6" font-size="16.24">z</tspan><tspan x="19.01" y="0" font-size="23"> = –0.25 (2π/d)</tspan></text>
<text transform="translate(825.06 418) scale(0.9903 1)" font-size="23" fill="#231815">k<tspan x="10.8" y="3.6" font-size="16.24">z</tspan><tspan x="18.92" y="0" font-size="23"> = 0.25 (2π/d)</tspan></text>
</svg>
</body></html>
